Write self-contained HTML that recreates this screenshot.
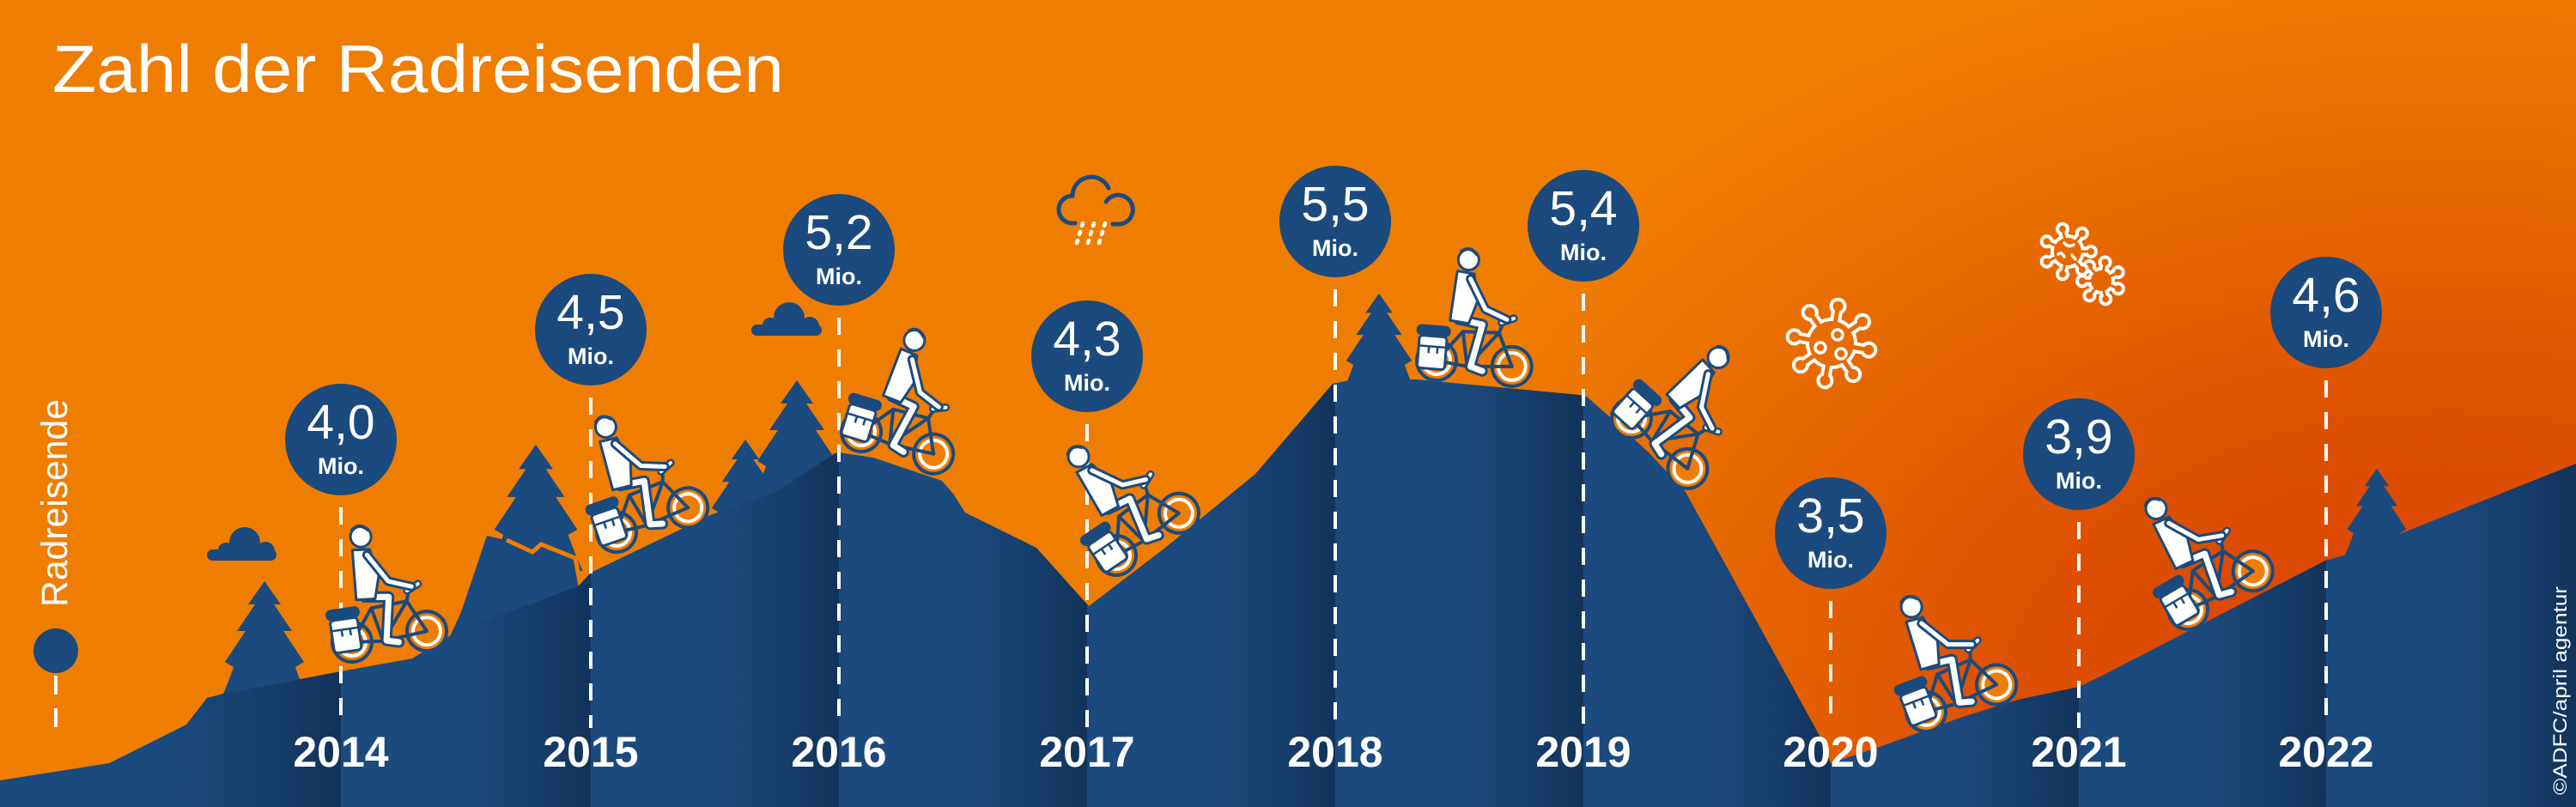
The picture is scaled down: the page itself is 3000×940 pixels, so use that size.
<!DOCTYPE html>
<html>
<head>
<meta charset="utf-8">
<style>
html,body{margin:0;padding:0;background:#ef7d00;}
svg{display:block;}
</style>
</head>
<body>
<svg width="3000" height="940" viewBox="0 0 3000 940" xmlns="http://www.w3.org/2000/svg" xmlns:xlink="http://www.w3.org/1999/xlink" font-family="'Liberation Sans', sans-serif">
<defs>
  <radialGradient id="bg" gradientUnits="userSpaceOnUse" cx="2850" cy="850" r="1300" gradientTransform="translate(2850 850) scale(1 0.7) translate(-2850 -850)">
    <stop offset="0" stop-color="#d83f00"/>
    <stop offset="0.4" stop-color="#dd5000"/>
    <stop offset="0.75" stop-color="#e86c00"/>
    <stop offset="1" stop-color="#ef7d00"/>
  </radialGradient>
  <linearGradient id="seg" x1="0" y1="0" x2="1" y2="0">
    <stop offset="0" stop-color="#1b4a7e"/>
    <stop offset="0.5" stop-color="#1b4a7e"/>
    <stop offset="1" stop-color="#12335b"/>
  </linearGradient>
  <clipPath id="mclip">
    <path d="M0,909 L127,889 L217,844 L241,813 L260,808 L397,782 L480,767 L533,735 L673,683 L688,667 L827,600 L903,573 L970,530 L977,527 L1017,533 L1097,560 L1110,575 L1124,597 L1207,638 L1268,706 L1357,638 L1462,552 L1552,447 L1572,443 L1650,442 L1840,460 L1848,462 L1883,493 L1920,527 L1963,573 L2118,855 L2132,889 L2183,872 L2283,836 L2350,815 L2421,800 L2450,786 L2574,722 L2708,653 L2740,644 L2807,617 L3000,540 L3000,940 L0,940 Z"/>
  </clipPath>
  <path id="tree" d="M0,0 L19,27 L11,27 L32,58 L22,58 L46,94 L36,100 Q42,118 52,140 L-52,140 Q-42,118 -36,100 L-46,94 L-22,58 L-32,58 L-11,27 L-19,27 Z"/>
  <g id="cyc">
    <circle cx="0" cy="0" r="23" fill="#ef7d00" stroke="#1b4a7e" stroke-width="4"/>
    <circle cx="0" cy="0" r="16" fill="none" stroke="#fff" stroke-width="4"/>
    <circle cx="88" cy="0" r="23" fill="#ef7d00" stroke="#1b4a7e" stroke-width="4"/>
    <circle cx="88" cy="0" r="16" fill="none" stroke="#fff" stroke-width="4"/>
    <path d="M0,0 L36,4 L88,0 M36,4 L28,-36 L70,-38 L88,0 M36,4 L70,-38 M0,0 L28,-36 M70,-38 L74,-50" stroke="#1b4a7e" stroke-width="4" fill="none" stroke-linejoin="round" stroke-linecap="round"/>
    <path d="M72,-50 L86,-56" stroke="#1b4a7e" stroke-width="9" fill="none" stroke-linecap="round"/>
    <path d="M72,-50 L86,-56" stroke="#fff" stroke-width="4" fill="none" stroke-linecap="round"/>
    <rect x="-22" y="-28" width="32" height="38" rx="4" fill="#fff" stroke="#1b4a7e" stroke-width="3"/>
    <path d="M-22,-16 L10,-16 M-10,-16 L-10,-8 M0,-16 L0,-8" stroke="#1b4a7e" stroke-width="2.5" fill="none"/>
    <rect x="-26" y="-41" width="40" height="13" rx="6" fill="#1b4a7e"/>
    <path d="M22,-50 L50,-46 L40,4 L54,8" stroke="#1b4a7e" stroke-width="13" fill="none" stroke-linejoin="round" stroke-linecap="round"/>
    <path d="M22,-50 L50,-46 L40,4 L54,8" stroke="#fff" stroke-width="7" fill="none" stroke-linejoin="round" stroke-linecap="round"/>
    <path d="M16,-106 L36,-104 L42,-72 L34,-46 L12,-48 Z" fill="#fff" stroke="#1b4a7e" stroke-width="3" stroke-linejoin="round"/>
    <path d="M32,-98 L52,-64 L78,-54" stroke="#1b4a7e" stroke-width="11" fill="none" stroke-linejoin="round" stroke-linecap="round"/>
    <path d="M32,-98 L52,-64 L78,-54" stroke="#fff" stroke-width="5" fill="none" stroke-linejoin="round" stroke-linecap="round"/>
    <circle cx="28" cy="-120" r="12" fill="#fff" stroke="#1b4a7e" stroke-width="3"/>
    <path d="M18,-128 Q28,-138 38,-126" stroke="#1b4a7e" stroke-width="4" fill="none"/>
  </g>
</defs>

<!-- background -->
<rect x="0" y="0" width="3000" height="940" fill="url(#bg)"/>

<!-- title -->
<text x="61" y="107" font-size="78" fill="#fff" textLength="852" lengthAdjust="spacingAndGlyphs">Zahl der Radreisenden</text>

<!-- clouds -->
<g fill="#1b4a7e">
  <rect x="241" y="640" width="81" height="13" rx="6.5"/>
  <circle cx="285" cy="632" r="18"/>
  <circle cx="263" cy="641" r="9"/>
  <circle cx="309" cy="642" r="11"/>
  <rect x="875" y="378" width="82" height="13" rx="6.5"/>
  <circle cx="919" cy="370" r="18"/>
  <circle cx="897" cy="379" r="9"/>
  <circle cx="943" cy="380" r="11"/>
</g>

<!-- rain cloud -->
<g fill="none" stroke="#1b4a7e" stroke-width="5" stroke-linecap="round">
  <path d="M1252,260 L1249,260 A16,16 0 0 1 1249,228 A22,22 0 0 1 1291,219"/>
  <path d="M1288,235 A17,17 0 1 1 1300,261 L1296,261"/>
</g>
<g stroke="#fff" stroke-width="4.5" stroke-linecap="round">
  <path d="M1261,260 L1260,263 M1274,260 L1273,263 M1287,260 L1286,263"/>
  <path d="M1258,270 L1257,273 M1271,270 L1270,273 M1284,270 L1283,273"/>
  <path d="M1255,280 L1254,283 M1268,280 L1267,283 M1281,280 L1280,283"/>
</g>

<!-- viruses -->
<g>
  <g fill="#fff" stroke="#fff" stroke-width="13" stroke-linecap="butt">
    <circle cx="2133" cy="400" r="30" stroke="none"/>
    <path d="M2133,400 L2176.3,407.6 M2133,400 L2158.2,436 M2133,400 L2125.4,443.3 M2133,400 L2097,425.2 M2133,400 L2089.7,392.4 M2133,400 L2107.8,364 M2133,400 L2140.6,356.7 M2133,400 L2169,374.8"/>
    <g stroke="none">
      <circle cx="2176.3" cy="407.6" r="10"/><circle cx="2158.2" cy="436" r="10"/><circle cx="2125.4" cy="443.3" r="10"/><circle cx="2097" cy="425.2" r="10"/>
      <circle cx="2089.7" cy="392.4" r="10"/><circle cx="2107.8" cy="364" r="10"/><circle cx="2140.6" cy="356.7" r="10"/><circle cx="2169" cy="374.8" r="10"/>
    </g>
  </g>
  <g fill="url(#bg)" stroke="url(#bg)" stroke-width="5">
    <circle cx="2133" cy="400" r="26" stroke="none"/>
    <path d="M2133,400 L2176.3,407.6 M2133,400 L2158.2,436 M2133,400 L2125.4,443.3 M2133,400 L2097,425.2 M2133,400 L2089.7,392.4 M2133,400 L2107.8,364 M2133,400 L2140.6,356.7 M2133,400 L2169,374.8"/>
    <g stroke="none">
      <circle cx="2176.3" cy="407.6" r="6"/><circle cx="2158.2" cy="436" r="6"/><circle cx="2125.4" cy="443.3" r="6"/><circle cx="2097" cy="425.2" r="6"/>
      <circle cx="2089.7" cy="392.4" r="6"/><circle cx="2107.8" cy="364" r="6"/><circle cx="2140.6" cy="356.7" r="6"/><circle cx="2169" cy="374.8" r="6"/>
    </g>
  </g>
  <g fill="none" stroke="#fff" stroke-width="3.5">
    <circle cx="2140" cy="390" r="6"/><circle cx="2120" cy="405" r="6"/><circle cx="2144" cy="412" r="6"/>
  </g>

  <g fill="#fff" stroke="#fff" stroke-width="11">
    <circle cx="2447" cy="327" r="16" stroke="none"/>
    <path d="M2447,327 L2466.9,336.3 M2447,327 L2452.2,348.4 M2447,327 L2433.5,344.4 M2447,327 L2425,327.3 M2447,327 L2433.1,310 M2447,327 L2451.6,305.5 M2447,327 L2466.7,317.2"/>
    <g stroke="none">
      <circle cx="2466.9" cy="336.3" r="8"/><circle cx="2452.2" cy="348.4" r="8"/><circle cx="2433.5" cy="344.4" r="8"/><circle cx="2425" cy="327.3" r="8"/>
      <circle cx="2433.1" cy="310" r="8"/><circle cx="2451.6" cy="305.5" r="8"/><circle cx="2466.7" cy="317.2" r="8"/>
    </g>
  </g>
  <g fill="url(#bg)" stroke="url(#bg)" stroke-width="3">
    <circle cx="2447" cy="327" r="12" stroke="none"/>
    <path d="M2447,327 L2466.9,336.3 M2447,327 L2452.2,348.4 M2447,327 L2433.5,344.4 M2447,327 L2425,327.3 M2447,327 L2433.1,310 M2447,327 L2451.6,305.5 M2447,327 L2466.7,317.2"/>
    <g stroke="none">
      <circle cx="2466.9" cy="336.3" r="4"/><circle cx="2452.2" cy="348.4" r="4"/><circle cx="2433.5" cy="344.4" r="4"/><circle cx="2425" cy="327.3" r="4"/>
      <circle cx="2433.1" cy="310" r="4"/><circle cx="2451.6" cy="305.5" r="4"/><circle cx="2466.7" cy="317.2" r="4"/>
    </g>
  </g>
  <g fill="#fff" stroke="#fff" stroke-width="11">
    <circle cx="2408" cy="293" r="20" stroke="none"/>
    <path d="M2408,293 L2435,293 M2408,293 L2424.8,314.1 M2408,293 L2402,319.3 M2408,293 L2383.7,304.7 M2408,293 L2383.7,281.3 M2408,293 L2402,266.7 M2408,293 L2424.8,271.9"/>
    <g stroke="none">
      <circle cx="2435" cy="293" r="8"/><circle cx="2424.8" cy="314.1" r="8"/><circle cx="2402" cy="319.3" r="8"/><circle cx="2383.7" cy="304.7" r="8"/>
      <circle cx="2383.7" cy="281.3" r="8"/><circle cx="2402" cy="266.7" r="8"/><circle cx="2424.8" cy="271.9" r="8"/>
    </g>
  </g>
  <g fill="url(#bg)" stroke="url(#bg)" stroke-width="3">
    <circle cx="2408" cy="293" r="16" stroke="none"/>
    <path d="M2408,293 L2435,293 M2408,293 L2424.8,314.1 M2408,293 L2402,319.3 M2408,293 L2383.7,304.7 M2408,293 L2383.7,281.3 M2408,293 L2402,266.7 M2408,293 L2424.8,271.9"/>
    <g stroke="none">
      <circle cx="2435" cy="293" r="4"/><circle cx="2424.8" cy="314.1" r="4"/><circle cx="2402" cy="319.3" r="4"/><circle cx="2383.7" cy="304.7" r="4"/>
      <circle cx="2383.7" cy="281.3" r="4"/><circle cx="2402" cy="266.7" r="4"/><circle cx="2424.8" cy="271.9" r="4"/>
    </g>
  </g>
  <g fill="none" stroke="#fff" stroke-width="3.5" stroke-linecap="round">
    <path d="M2404,283 Q2409,289 2415,285"/>
    <path d="M2397,296 Q2401,293 2404,299"/>
    <path d="M2413,297 L2417,302"/>
  </g>
</g>

<!-- trees -->
<g fill="#1b4a7e">
  <use xlink:href="#tree" href="#tree" transform="translate(308,677)"/>
  <use xlink:href="#tree" href="#tree" transform="translate(624,518) scale(1.05)"/>
  <use xlink:href="#tree" href="#tree" transform="translate(868,512) scale(0.85)"/>
  <use xlink:href="#tree" href="#tree" transform="translate(928,443)"/>
  <use xlink:href="#tree" href="#tree" transform="translate(1606,342) scale(0.83)"/>
  <use xlink:href="#tree" href="#tree" transform="translate(2768,546) scale(0.75)"/>
</g>
<path d="M830,605 L860,585 L900,560 L975,527 L975,600 Z" fill="#1b4a7e"/>

<!-- back peak -->
<path d="M520,750 L537,713 L567,624 L593,630 L620,643 L630,634 L670,650 L676,684 L660,720 Z" fill="#1b4a7e"/>
<path d="M590,629 L620,643 L630,634 L670,650 L677,688" fill="none" stroke="#ef7d00" stroke-width="5" stroke-linejoin="round"/>

<!-- main mountain -->
<g clip-path="url(#mclip)">
  <rect x="0" y="300" width="397" height="640" fill="url(#seg)"/>
  <rect x="397" y="300" width="291" height="640" fill="url(#seg)"/>
  <rect x="688" y="300" width="289" height="640" fill="url(#seg)"/>
  <rect x="977" y="300" width="289" height="640" fill="url(#seg)"/>
  <rect x="1266" y="300" width="289" height="640" fill="url(#seg)"/>
  <rect x="1555" y="300" width="289" height="640" fill="url(#seg)"/>
  <rect x="1844" y="300" width="288" height="640" fill="url(#seg)"/>
  <rect x="2132" y="300" width="289" height="640" fill="url(#seg)"/>
  <rect x="2421" y="300" width="288" height="640" fill="url(#seg)"/>
  <rect x="2709" y="300" width="291" height="640" fill="url(#seg)"/>
</g>

<!-- dashed year lines -->
<g stroke="#fff" stroke-width="4" stroke-dasharray="20 17" fill="none">
  <line x1="397" y1="591" x2="397" y2="848"/>
  <line x1="688" y1="463" x2="688" y2="848"/>
  <line x1="977" y1="370" x2="977" y2="848"/>
  <line x1="1266" y1="494" x2="1266" y2="848"/>
  <line x1="1555" y1="337" x2="1555" y2="848"/>
  <line x1="1844" y1="342" x2="1844" y2="848"/>
  <line x1="2132" y1="700" x2="2132" y2="848"/>
  <line x1="2421" y1="608" x2="2421" y2="848"/>
  <line x1="2709" y1="443" x2="2709" y2="848"/>
</g>

<!-- cyclists -->
<use xlink:href="#cyc" href="#cyc" transform="translate(410,748) rotate(-8.4)"/>
<use xlink:href="#cyc" href="#cyc" transform="translate(718,620) rotate(-19)"/>
<use xlink:href="#cyc" href="#cyc" transform="translate(1003,503) rotate(17)"/>
<use xlink:href="#cyc" href="#cyc" transform="translate(1300,647) rotate(-34)"/>
<use xlink:href="#cyc" href="#cyc" transform="translate(1673,420) rotate(4.5)"/>
<use xlink:href="#cyc" href="#cyc" transform="translate(1900,487) rotate(42)"/>
<use xlink:href="#cyc" href="#cyc" transform="translate(2243,829) rotate(-21)"/>
<use xlink:href="#cyc" href="#cyc" transform="translate(2548,710) rotate(-30.6)"/>

<!-- bubbles -->
<g fill="#1b4a7e">
  <circle cx="397" cy="512" r="65"/>
  <circle cx="688" cy="384" r="65"/>
  <circle cx="977" cy="291" r="65"/>
  <circle cx="1266" cy="415" r="65"/>
  <circle cx="1555" cy="258" r="65"/>
  <circle cx="1844" cy="263" r="65"/>
  <circle cx="2132" cy="621" r="65"/>
  <circle cx="2421" cy="529" r="65"/>
  <circle cx="2709" cy="364" r="65"/>
</g>
<g fill="#fff" font-size="57" text-anchor="middle">
  <text x="397" y="511">4,0</text>
  <text x="688" y="383">4,5</text>
  <text x="977" y="290">5,2</text>
  <text x="1266" y="414">4,3</text>
  <text x="1555" y="257">5,5</text>
  <text x="1844" y="262">5,4</text>
  <text x="2132" y="620">3,5</text>
  <text x="2421" y="528">3,9</text>
  <text x="2709" y="363">4,6</text>
</g>
<g fill="#fff" font-size="27" font-weight="bold" text-anchor="middle">
  <text x="397" y="552">Mio.</text>
  <text x="688" y="424">Mio.</text>
  <text x="977" y="331">Mio.</text>
  <text x="1266" y="455">Mio.</text>
  <text x="1555" y="298">Mio.</text>
  <text x="1844" y="303">Mio.</text>
  <text x="2132" y="661">Mio.</text>
  <text x="2421" y="569">Mio.</text>
  <text x="2709" y="404">Mio.</text>
</g>

<!-- year labels -->
<g fill="#fff" font-size="50" font-weight="bold" text-anchor="middle">
  <text x="397" y="893">2014</text>
  <text x="688" y="893">2015</text>
  <text x="977" y="893">2016</text>
  <text x="1266" y="893">2017</text>
  <text x="1555" y="893">2018</text>
  <text x="1844" y="893">2019</text>
  <text x="2132" y="893">2020</text>
  <text x="2421" y="893">2021</text>
  <text x="2709" y="893">2022</text>
</g>

<!-- legend -->
<text transform="translate(78,707) rotate(-90)" font-size="43" fill="#fff" textLength="242" lengthAdjust="spacingAndGlyphs">Radreisende</text>
<circle cx="65" cy="758" r="26" fill="#1b4a7e"/>
<line x1="65" y1="787" x2="65" y2="847" stroke="#fff" stroke-width="4" stroke-dasharray="22 16"/>

<!-- copyright -->
<text transform="translate(2989,926) rotate(-90)" font-size="22" fill="#fff" textLength="243" lengthAdjust="spacingAndGlyphs">©ADFC/april agentur</text>
</svg>
</body>
</html>
